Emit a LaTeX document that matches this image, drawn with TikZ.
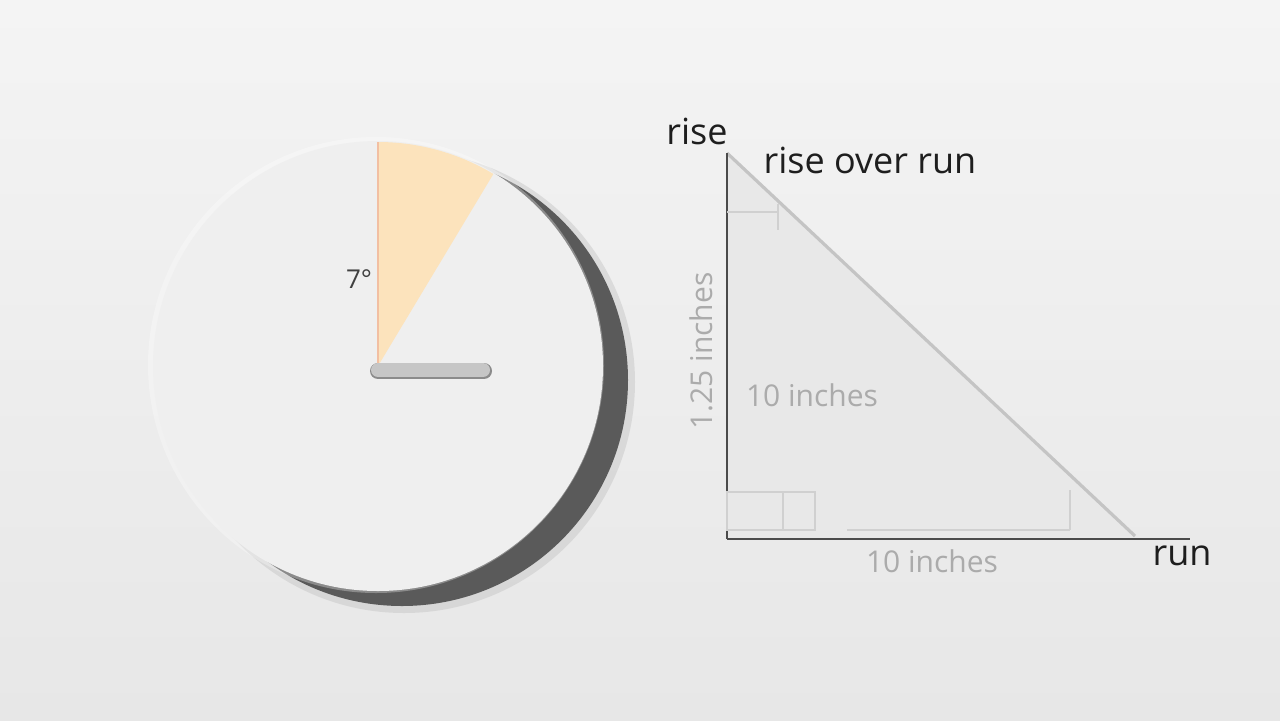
\documentclass[tikz,border=0pt]{standalone}
\usepackage{fontspec}
\setmainfont{Open Sans}
\usetikzlibrary{positioning, calc}

\definecolor{bgtop}{HTML}{F4F4F4}
\definecolor{bgbot}{HTML}{E7E7E7}
\definecolor{dialface}{HTML}{EFEFEF}
\definecolor{dialshadow}{HTML}{5A5A5A}
\definecolor{wedgefill}{HTML}{FCE3BC}
\definecolor{wedgeedge}{HTML}{F2BFA2}
\definecolor{handgray}{HTML}{C6C6C6}
\definecolor{trifill}{HTML}{E8E8E8}
\definecolor{hypgray}{HTML}{C4C4C4}
\definecolor{markgray}{HTML}{D0D0D0}
\definecolor{dimgray}{HTML}{ABABAB}
\definecolor{inkdark}{HTML}{1E1E1E}

\tikzset{
  label text/.style={text=inkdark, font=\fontsize{18}{21}\selectfont, inner sep=1pt},
  dim text/.style={text=dimgray, font=\fontsize{15}{18}\selectfont, inner sep=1pt},
  axis line/.style={draw=inkdark!80, line width=1.2pt},
  mark line/.style={draw=markgray, line width=0.9pt}
}

\begin{document}
\begin{tikzpicture}[x=0.5pt, y=-0.5pt]
  \useasboundingbox (0,0) rectangle (1280,720);
  \shade[top color=bgtop, bottom color=bgbot] (0,0) rectangle (1280,720);

  % dial
  \coordinate (O) at (378,366);
  \fill[dialshadow!40, opacity=0.4] ($(O)+(26,16)$) circle[radius=231];
  \fill[dialshadow] ($(O)+(24,14)$) circle[radius=226];
  \fill[white, opacity=0.3] ($(O)+(-2,-1)$) circle[radius=228];
  \fill[dialface] (O) circle[radius=225];
  \coordinate (wtop) at ($(O)+(0,-224)$);
  \fill[wedgefill] (O) -- (wtop) arc[start angle=-90, end angle=-59, radius=224] -- cycle;
  \draw[wedgeedge, line width=1.4pt] (O) -- (wtop);
  \node[label text, text=inkdark!85, font=\fontsize{13}{16}\selectfont] (angle) at (359,279) {7°};
  \coordinate (hand) at ($(O)+(105,4)$);
  \draw[handgray!70!black, line width=8pt, line cap=round] ($(O)+(0,5)$) -- ($(hand)+(1,1)$);
  \draw[handgray, line width=7pt, line cap=round] ($(O)+(0,4)$) -- (hand);

  % triangle
  \coordinate (A) at (727,153);
  \coordinate (B) at (727,539);
  \coordinate (C) at (1135,536);
  \coordinate (E) at (1190,539);
  \fill[trifill] (A) -- (B) -- (C) -- cycle;
  \draw[hypgray, line width=1.6pt] (A) -- (C);
  \draw[axis line] (A) -- (B);
  \draw[axis line] (B) -- (E);

  % marks
  \draw[mark line] (727,212) -- (778,212);
  \draw[mark line] (778,204) -- (778,230);
  \draw[mark line] (727,492) rectangle (815,530);
  \draw[mark line] (783,492) -- (783,530);
  \draw[mark line] (847,530) -- (1070,530);
  \draw[mark line] (1070,490) -- (1070,530);

  % labels
  \node[label text] (rise) at (697,131) {rise};
  \node[label text] (title) at (870,160) {rise over run};
  \node[label text] (run) at (1182,556) {run};
  \node[dim text, rotate=90] (height) at (701,351) {1.25 inches};
  \node[dim text] (inner) at (812,395) {10 inches};
  \node[dim text] (base) at (932,561) {10 inches};
\end{tikzpicture}
\end{document}
